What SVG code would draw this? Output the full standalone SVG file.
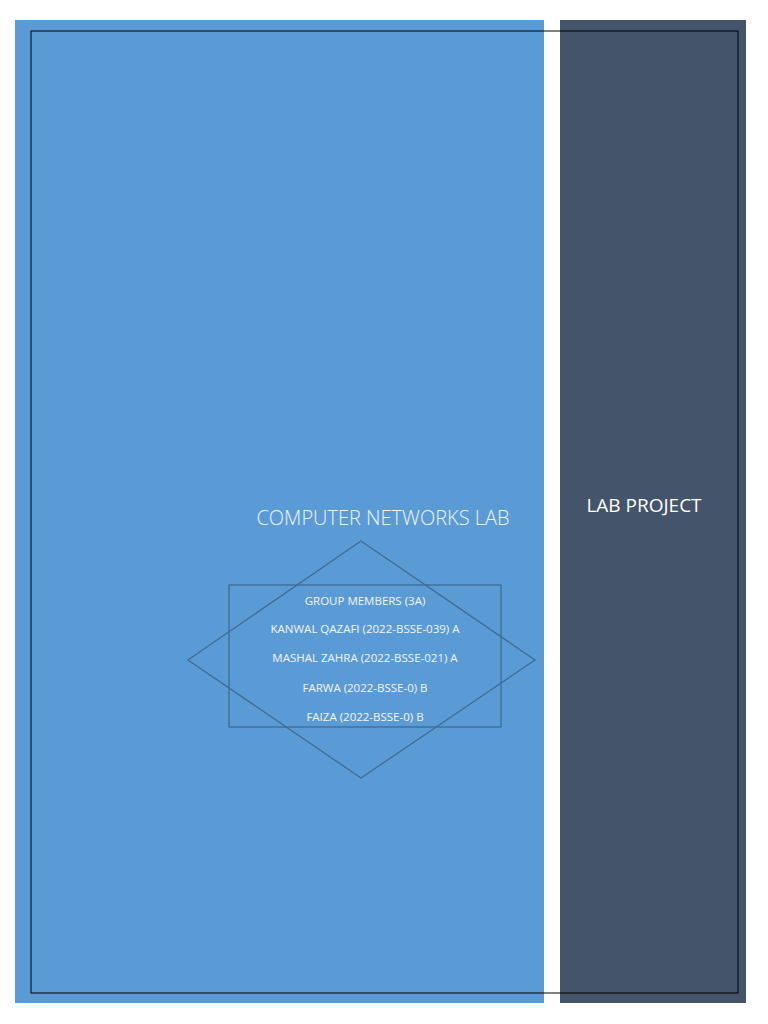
<svg xmlns="http://www.w3.org/2000/svg" width="768" height="1024" viewBox="0 0 768 1024">
<style>
.m{font-family:"Open Sans","Liberation Sans",sans-serif;font-size:11.5px;fill:#f2f4f8;text-anchor:middle}
.s{fill:none;stroke:#3f6c96;stroke-width:1.3}
</style>
<rect width="768" height="1024" fill="#fff"/>
<rect id="left-panel" x="15" y="20" width="529" height="983" fill="#5b9bd5"/>
<rect id="right-panel" x="560" y="20" width="186" height="983" fill="#44546a"/>
<rect x="31" y="31" width="707" height="962" fill="none" stroke="#000" stroke-width="1"/>
<text id="title" x="383" y="525" font-family="Open Sans, Liberation Sans, sans-serif" font-size="20" font-weight="300" fill="#eef3fa" text-anchor="middle">COMPUTER NETWORKS LAB</text>
<text id="lab" x="644" y="512" font-family="Open Sans, Liberation Sans, sans-serif" font-size="19" fill="#fff" text-anchor="middle">LAB PROJECT</text>
<g id="members">
<polygon class="s" points="361,541 535,660 361,778 188,660"/>
<rect class="s" x="229" y="585" width="272" height="142"/>
<text class="m" x="365" y="605">GROUP MEMBERS (3A)</text>
<text class="m" x="365" y="633">KANWAL QAZAFI (2022-BSSE-039) A</text>
<text class="m" x="365" y="662">MASHAL ZAHRA (2022-BSSE-021) A</text>
<text class="m" x="365" y="692">FARWA (2022-BSSE-0) B</text>
<text class="m" x="365" y="721">FAIZA (2022-BSSE-0) B</text>
</g>
</svg>
